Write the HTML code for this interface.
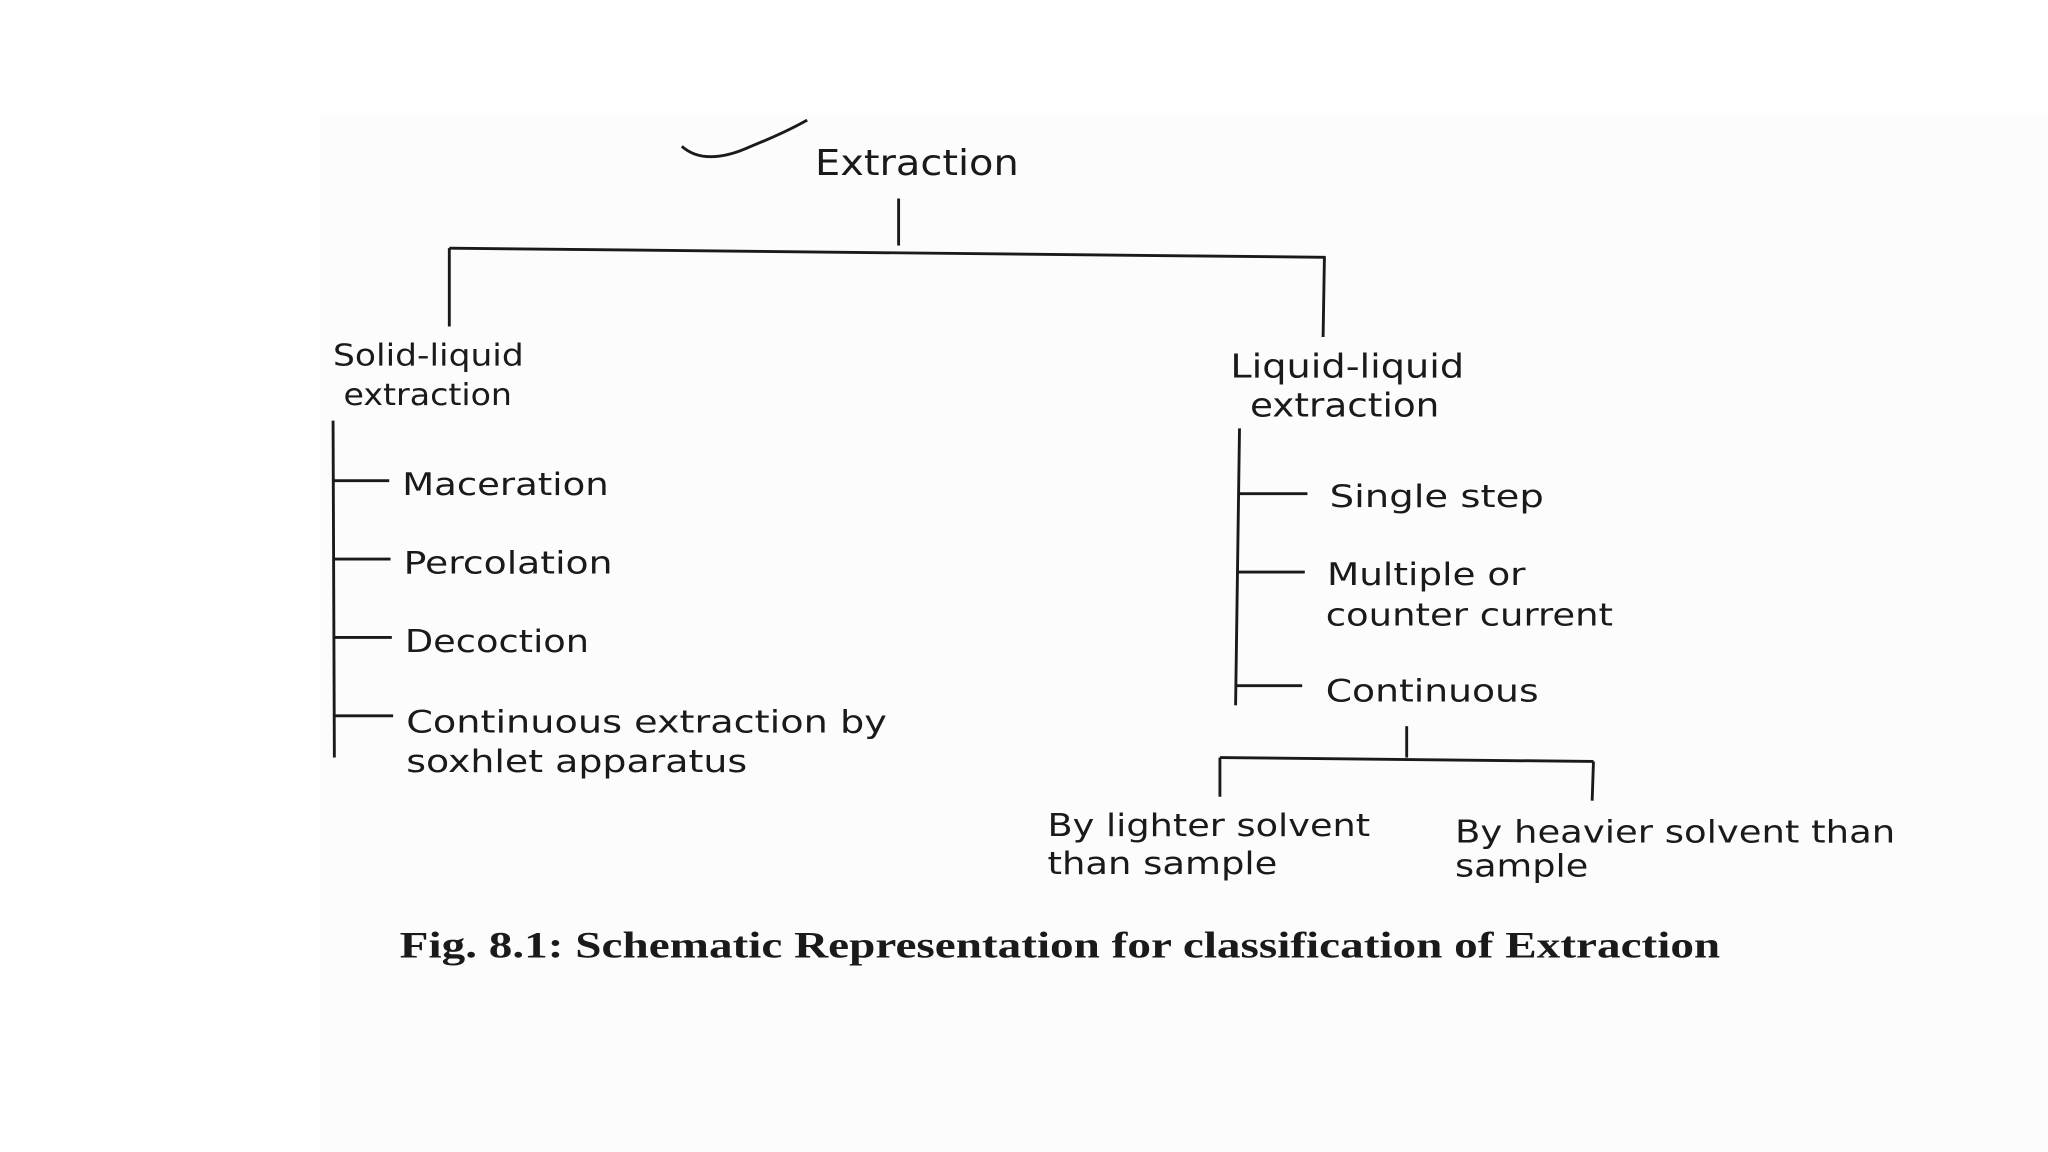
<!DOCTYPE html>
<html><head><meta charset="utf-8"><style>
html,body{margin:0;padding:0;background:#fff;}
svg{display:block;}
.t{font-family:"DejaVu Sans","Liberation Sans",sans-serif;fill:#1a1a1a;}
</style></head><body>
<svg width="2048" height="1152" viewBox="0 0 1568 882" xmlns="http://www.w3.org/2000/svg">
<rect x="0" y="0" width="1568" height="882" fill="#fff"/>
<rect x="245" y="88" width="1323" height="794" fill="#fcfcfc"/>
<g stroke="#1a1a1a" stroke-width="2.2" fill="none">
<path d="M522 112 Q540 128 575 112 Q600 102 618 92"/>
<line x1="688" y1="152" x2="688" y2="188"/>
<line x1="344" y1="190" x2="1015" y2="197"/>
<line x1="344" y1="190" x2="344" y2="250"/>
<line x1="1014" y1="197" x2="1013" y2="258"/>
<line x1="255" y1="322" x2="256" y2="580"/>
<line x1="255" y1="368" x2="298" y2="368"/>
<line x1="255" y1="428" x2="299" y2="428"/>
<line x1="256" y1="488" x2="300" y2="488"/>
<line x1="256" y1="548" x2="301" y2="548"/>
<line x1="949" y1="328" x2="946" y2="540"/>
<line x1="949" y1="378" x2="1001" y2="378"/>
<line x1="947" y1="438" x2="999" y2="438"/>
<line x1="946" y1="525" x2="997" y2="525"/>
<line x1="1077" y1="556" x2="1077" y2="580"/>
<line x1="934" y1="580" x2="1220" y2="583"/>
<line x1="934" y1="580" x2="934" y2="610"/>
<line x1="1220" y1="583" x2="1219" y2="613"/>
</g>
<g class="t" lengthAdjust="spacingAndGlyphs">
<text x="624" y="134" font-size="27" textLength="156" lengthAdjust="spacingAndGlyphs">Extraction</text>
<text x="255" y="280" font-size="23" textLength="146" lengthAdjust="spacingAndGlyphs">Solid-liquid</text>
<text x="263" y="310" font-size="23" textLength="129" lengthAdjust="spacingAndGlyphs">extraction</text>
<text x="308" y="379" font-size="24" textLength="158" lengthAdjust="spacingAndGlyphs">Maceration</text>
<text x="309" y="439" font-size="24" textLength="160" lengthAdjust="spacingAndGlyphs">Percolation</text>
<text x="310" y="499" font-size="24" textLength="141" lengthAdjust="spacingAndGlyphs">Decoction</text>
<text x="311" y="561" font-size="24" textLength="368" lengthAdjust="spacingAndGlyphs">Continuous extraction by</text>
<text x="311" y="591" font-size="24" textLength="261" lengthAdjust="spacingAndGlyphs">soxhlet apparatus</text>
<text x="942" y="289" font-size="25" textLength="179" lengthAdjust="spacingAndGlyphs">Liquid-liquid</text>
<text x="957" y="319" font-size="25" textLength="145" lengthAdjust="spacingAndGlyphs">extraction</text>
<text x="1018" y="388" font-size="24" textLength="164" lengthAdjust="spacingAndGlyphs">Single step</text>
<text x="1016" y="448" font-size="24" textLength="152" lengthAdjust="spacingAndGlyphs">Multiple or</text>
<text x="1015" y="479" font-size="24" textLength="220" lengthAdjust="spacingAndGlyphs">counter current</text>
<text x="1015" y="537" font-size="24" textLength="163" lengthAdjust="spacingAndGlyphs">Continuous</text>
<text x="802" y="640" font-size="24" textLength="247" lengthAdjust="spacingAndGlyphs">By lighter solvent</text>
<text x="802" y="669" font-size="24" textLength="176" lengthAdjust="spacingAndGlyphs">than sample</text>
<text x="1114" y="645" font-size="24" textLength="337" lengthAdjust="spacingAndGlyphs">By heavier solvent than</text>
<text x="1114" y="671" font-size="24" textLength="102" lengthAdjust="spacingAndGlyphs">sample</text>
<text x="306" y="733" font-size="28" font-weight="bold" font-family="Liberation Serif,serif" textLength="1011" lengthAdjust="spacingAndGlyphs">Fig. 8.1: Schematic Representation for classification of Extraction</text>
</g>
</svg>
</body></html>
